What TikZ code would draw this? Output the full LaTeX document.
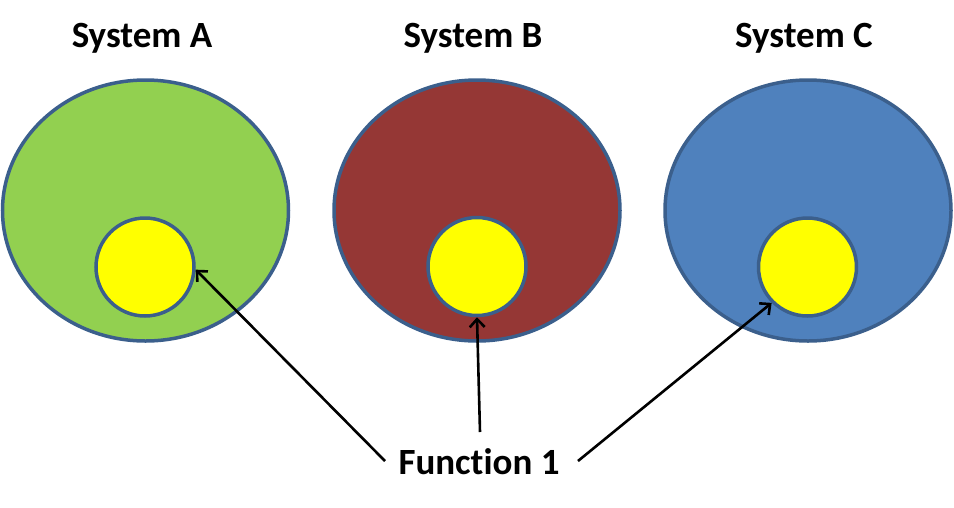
\documentclass[tikz,border=0pt]{standalone}
\usepackage{fontspec}
\setmainfont[Ligatures=NoCommon]{Carlito}
\usetikzlibrary{shapes.geometric,arrows.meta}
\definecolor{sysgreen}{HTML}{92D050}
\definecolor{sysred}{HTML}{953735}
\definecolor{sysblue}{HTML}{4F81BD}
\definecolor{edgeblue}{HTML}{3B5F8C}
\definecolor{funcyellow}{HTML}{FFFF00}
\tikzset{
  sysbox/.style={ellipse, draw=edgeblue, line width=3.5pt, minimum width=286pt, minimum height=261pt, inner sep=0pt},
  funcbox/.style={circle, draw=edgeblue, fill=funcyellow, line width=3.5pt, minimum size=98pt, inner sep=0pt},
  label/.style={font=\bfseries\fontsize{37}{44}\selectfont, anchor=base, inner sep=0pt},
  pointer/.style={line width=2.6pt, -{Straight Barb[length=8pt,width=15pt,line width=2.6pt]}}
}
\begin{document}
\begin{tikzpicture}[x=1pt,y=-1pt]
\useasboundingbox (0,0) rectangle (954,507);
\node[sysbox, fill=sysgreen] (sa) at (145.5,210.5) {};
\node[sysbox, fill=sysred]   (sb) at (477,210.5) {};
\node[sysbox, fill=sysblue]  (sc) at (808,210.5) {};
\node[funcbox] (fa) at (145,267) {};
\node[funcbox] (fb) at (477,266.5) {};
\node[funcbox] (fc) at (807.5,267) {};
\node[label] (ta) at (142,47) {System A};
\node[label] (tb) at (473,47) {System B};
\node[label] (tc) at (804,47) {System C};
\node[label] (fn) at (479,474) {Function 1};
\coordinate (sa1) at (385,461);
\coordinate (sb1) at (480,432);
\coordinate (sc1) at (578,461);
\draw[pointer] (sa1) -- (fa.-3);
\draw[pointer] (sb1) -- (fb.south);
\draw[pointer] (sc1) -- (fc.225);
\end{tikzpicture}
\end{document}
